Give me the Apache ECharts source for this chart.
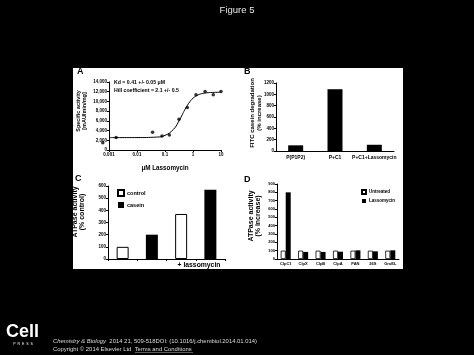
<!DOCTYPE html>
<html><head><meta charset="utf-8">
<script src="https://cdn.jsdelivr.net/npm/echarts@6/dist/echarts.min.js"></script>
<style>html,body{margin:0;padding:0;background:#000}#c{width:474px;height:355px}</style>
</head><body><div id="c"></div>
<script>
// ---- Panel A: dose response ----
const aDoseUM = [0.0006, 0.0018, 0.036, 0.078, 0.143, 0.316, 0.625, 1.28, 2.7, 5.3, 10];
const aActivity = [1500, 2550, 3650, 2900, 3100, 6350, 8750, 11400, 12050, 11400, 12050];
const aFitDose = [0.001, 0.01, 0.05, 0.1, 0.2, 0.3, 0.41, 0.5, 0.7, 1, 1.5, 2, 3, 5, 10];
const aFitActivity = [2550, 2560, 2660, 3010, 4250, 5750, 7230, 8190, 9600, 10660, 11320, 11580, 11760, 11850, 11890];
// ---- Panel B ----
const bCategories = ['P(P1P2)', 'P+C1', 'P+C1+Lassomycin'];
const bValues = [100, 1090, 110];
// ---- Panel C ----
const cCategories = ['c1', 'c2', 'c3', 'c4'];
const cControl = [100, null, 370, null];
const cCasein = [null, 200, null, 570];
// ---- Panel D ----
const dCategories = ['ClpC1', 'ClpX', 'ClpB', 'ClpA', 'PAN', '26S', 'GroEL'];
const dUntreated = [100, 100, 100, 100, 100, 100, 100];
const dLassomycin = [800, 85, 85, 88, 104, 92, 104];

const FONT = 'Liberation Sans, Arial, sans-serif';
const axLine = { show: true, lineStyle: { color: '#000', width: 1 } };
const axTick = { show: true, length: 2, lineStyle: { color: '#000', width: 1 } };
const lbl = (fs, extra) => Object.assign({ fontSize: fs, fontWeight: 'bold', color: '#000', fontFamily: FONT, margin: 2 }, extra || {});
const noSplit = { show: false };

const chart = echarts.init(document.getElementById('c'), null, { renderer: 'canvas' });

function vtext(x, y, text, fs, lh) {
  return { type: 'text', x: x, y: y, rotation: Math.PI / 2, z: 10,
    style: { text: text, fontSize: fs, fontWeight: 'bold', fill: '#000', fontFamily: FONT,
      align: 'center', verticalAlign: 'middle', lineHeight: lh } };
}
function htext(x, y, text, fs, opts) {
  return { type: 'text', x: x, y: y, z: 10,
    style: Object.assign({ text: text, fontSize: fs, fontWeight: 'bold', fill: '#000', fontFamily: FONT,
      align: 'left', verticalAlign: 'middle' }, opts || {}) };
}

const option = {
  backgroundColor: '#000',
  animation: false,
  grid: [
    { left: 109, top: 82, width: 112, height: 68, outerBoundsMode: 'none', containLabel: false },
    { left: 276, top: 83, width: 118, height: 68, outerBoundsMode: 'none', containLabel: false },
    { left: 108, top: 186, width: 117, height: 73, outerBoundsMode: 'none', containLabel: false },
    { left: 277, top: 184, width: 122, height: 75, outerBoundsMode: 'none', containLabel: false }
  ],
  xAxis: [
    { gridIndex: 0, type: 'log', logBase: 10, min: 0.001, max: 10, axisLine: axLine, axisTick: axTick,
      splitLine: noSplit, minorTick: { show: false },
      axisLabel: lbl(4.5, { formatter: v => String(parseFloat(Number(v).toPrecision(3))) }) },
    { gridIndex: 1, type: 'category', data: bCategories, axisLine: axLine, axisTick: { show: false },
      axisLabel: lbl(5, { interval: 0, margin: 4 }) },
    { gridIndex: 2, type: 'category', data: cCategories, axisLine: axLine, axisTick: axTick,
      axisLabel: { show: false } },
    { gridIndex: 3, type: 'category', data: dCategories, axisLine: axLine, axisTick: { show: false },
      axisLabel: lbl(4, { interval: 0, margin: 3 }) }
  ],
  yAxis: [
    { gridIndex: 0, type: 'value', min: 0, max: 14000, interval: 2000, axisLine: axLine, axisTick: axTick,
      splitLine: noSplit, axisLabel: lbl(4.5, { formatter: v => v.toLocaleString('en-US') }) },
    { gridIndex: 1, type: 'value', min: 0, max: 1200, interval: 200, axisLine: axLine, axisTick: axTick,
      splitLine: noSplit, axisLabel: lbl(4.5, { formatter: v => String(v) }) },
    { gridIndex: 2, type: 'value', min: 0, max: 600, interval: 100, axisLine: axLine, axisTick: axTick,
      splitLine: noSplit, axisLabel: lbl(4.5, { formatter: v => String(v) }) },
    { gridIndex: 3, type: 'value', min: 0, max: 900, interval: 100, axisLine: axLine, axisTick: axTick,
      splitLine: noSplit, axisLabel: lbl(4, { formatter: v => String(v) }) }
  ],
  legend: [
    { data: ['control', 'casein'], left: 117, top: 189, orient: 'vertical', itemWidth: 6, itemHeight: 6,
      itemGap: 5, padding: 0, icon: 'rect',
      textStyle: { fontSize: 5.5, fontWeight: 'bold', color: '#000', fontFamily: FONT, padding: [0, 0, 0, -2] } },
    { data: ['Untreated', 'Lassomycin'], left: 361, top: 189, orient: 'vertical', itemWidth: 4, itemHeight: 4,
      itemGap: 3.5, padding: 0, icon: 'rect',
      textStyle: { fontSize: 4.5, fontWeight: 'bold', color: '#000', fontFamily: FONT, padding: [0, 0, 0, -2] } }
  ],
  series: [
    { type: 'line', xAxisIndex: 0, yAxisIndex: 0, smooth: true, showSymbol: false, z: 3,
      lineStyle: { color: '#000', width: 1 }, data: aFitDose.map((d, i) => [d, aFitActivity[i]]) },
    { type: 'scatter', xAxisIndex: 0, yAxisIndex: 0, clip: false, symbol: 'circle', symbolSize: 3.5, z: 4,
      itemStyle: { color: '#000' }, data: aDoseUM.map((d, i) => [d, aActivity[i]]) },
    { type: 'bar', xAxisIndex: 1, yAxisIndex: 1, barWidth: 15, itemStyle: { color: '#000' }, data: bValues },
    { name: 'control', type: 'bar', xAxisIndex: 2, yAxisIndex: 2, barWidth: 12, barGap: '-100%',
      itemStyle: { color: '#fff', borderColor: '#000', borderWidth: 1 }, data: cControl },
    { name: 'casein', type: 'bar', xAxisIndex: 2, yAxisIndex: 2, barWidth: 12, barGap: '-100%',
      itemStyle: { color: '#000' }, data: cCasein },
    { name: 'Untreated', type: 'bar', xAxisIndex: 3, yAxisIndex: 3, barWidth: 5, barGap: '0%',
      itemStyle: { color: '#fff', borderColor: '#000', borderWidth: 0.8 }, data: dUntreated },
    { name: 'Lassomycin', type: 'bar', xAxisIndex: 3, yAxisIndex: 3, barWidth: 5, barGap: '0%',
      itemStyle: { color: '#000' }, data: dLassomycin }
  ],
  graphic: [
    { type: 'rect', shape: { x: 73, y: 68, width: 330, height: 201 }, style: { fill: '#fff' }, z: -10 },
    { type: 'text', x: 237, y: 10, style: { text: 'Figure 5', fontSize: 9.5, fill: '#e6e6e6', fontFamily: FONT, align: 'center', verticalAlign: 'middle' } },
    htext(77, 72, 'A', 9),
    htext(244, 72, 'B', 9),
    htext(75, 179, 'C', 9),
    htext(244, 180, 'D', 9),
    htext(114, 82.5, 'Kd = 0.41 +/- 0.05 μM', 5.2),
    htext(114, 90.5, 'Hill coefficient = 2.1 +/- 0.5', 5.2),
    htext(165, 168, 'μM Lassomycin', 6.3, { align: 'center' }),
    htext(199, 265, '+ lassomycin', 6.8, { align: 'center' }),
    vtext(81, 111, 'Specific activity\n[mAU/min/mg]', 5.5, 6),
    vtext(256, 113, 'FITC casein degradation\n(% increase)', 6, 6.5),
    vtext(78.5, 212, 'ATPase activity\n(% control)', 7, 7),
    vtext(255, 216, 'ATPase activity\n(% increase)', 7, 7),
    // footer
    { type: 'text', x: 6, y: 332, style: { text: 'Cell', fontSize: 18, fontWeight: 'bold', fill: '#fff', fontFamily: FONT, align: 'left', verticalAlign: 'middle' } },
    { type: 'text', x: 23, y: 344.5, style: { text: 'P  R  E  S  S', fontSize: 3.5, fill: '#fff', fontFamily: FONT, align: 'center', verticalAlign: 'middle' } },
    { type: 'text', x: 53, y: 341.5, style: { fontFamily: FONT, align: 'left', verticalAlign: 'middle',
        text: '{i|Chemistry & Biology} {n|2014 21, 509-518DOI: (10.1016/j.chembiol.2014.01.014)}',
        rich: { i: { fontSize: 5.9, fontStyle: 'italic', fill: '#dcdcdc', fontFamily: FONT },
                n: { fontSize: 5.9, fill: '#dcdcdc', fontFamily: FONT } } } },
    { type: 'text', x: 53, y: 349.5, style: { fontFamily: FONT, align: 'left', verticalAlign: 'middle',
        text: '{n|Copyright © 2014 Elsevier Ltd} {u|Terms and Conditions}',
        rich: { n: { fontSize: 5.9, fill: '#dcdcdc', fontFamily: FONT },
                u: { fontSize: 5.9, fill: '#dcdcdc', fontFamily: FONT } } } },
    { type: 'line', shape: { x1: 135, y1: 352.5, x2: 193, y2: 352.5 }, style: { stroke: '#bbb', lineWidth: 0.5 } }
  ]
};
chart.setOption(option);
</script>
</body></html>
